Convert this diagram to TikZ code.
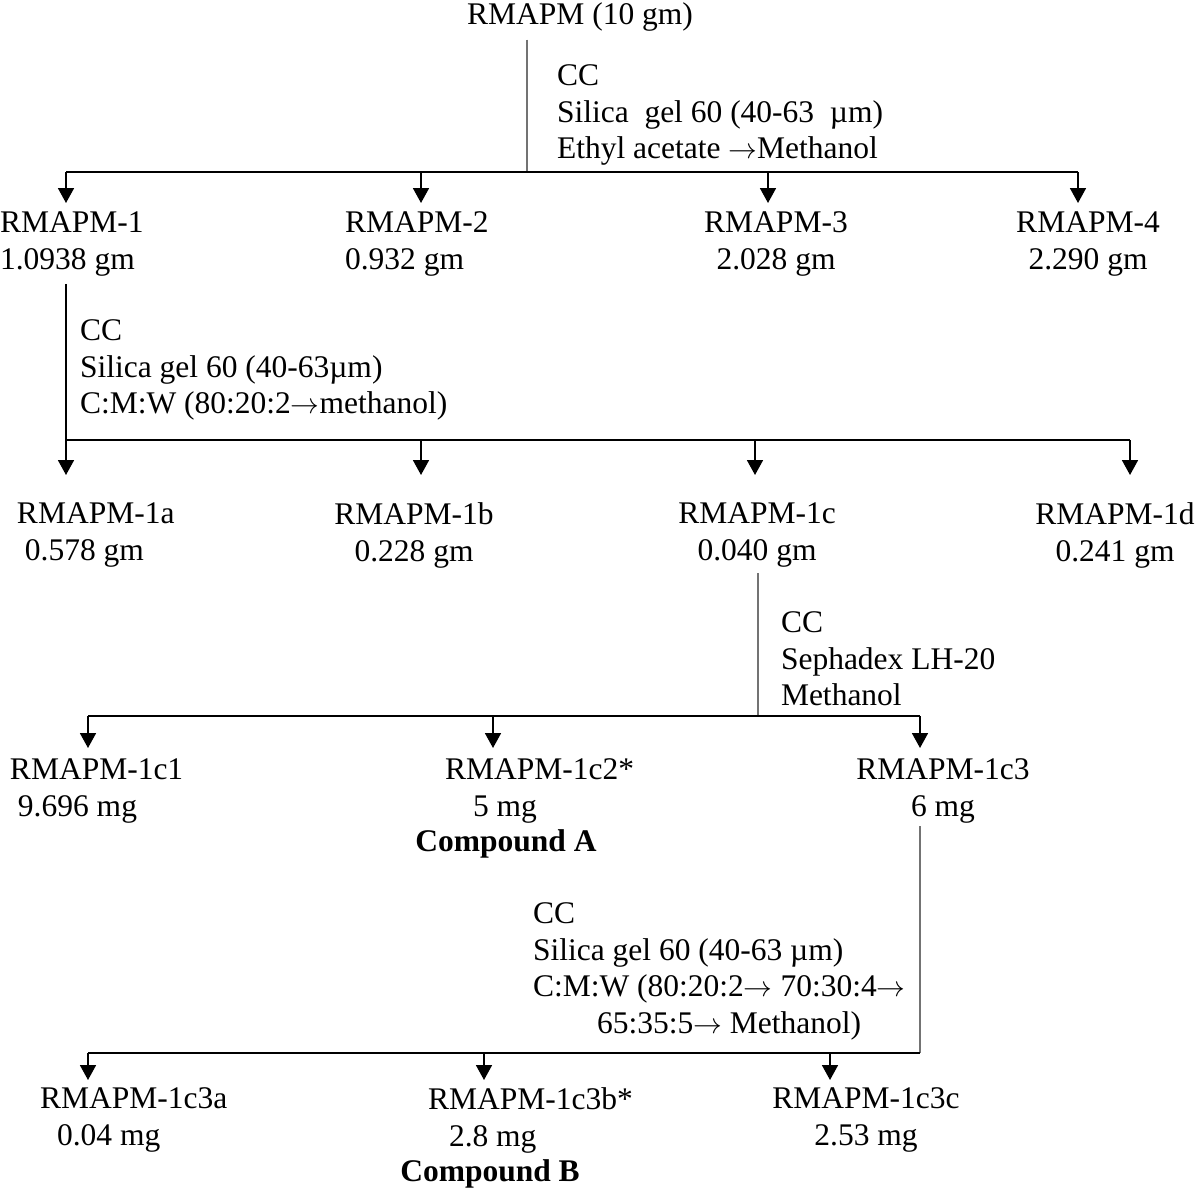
\documentclass[tikz,border=0pt]{standalone}
\usepackage{fontspec}
\setmainfont{Liberation Serif}
\usetikzlibrary{arrows.meta}
\newcommand\txtsize{\fontsize{15.75}{18.2}\selectfont}
\newcommand\ra{$\rightarrow$}
\tikzset{
  lbl/.style={inner sep=0pt, outer sep=0pt, font=\txtsize, align=left},
  lblc/.style={inner sep=0pt, outer sep=0pt, font=\txtsize, align=center},
  bold/.style={inner sep=0pt, outer sep=0pt, font=\txtsize\bfseries},
  trunkg/.style={draw=black!55, line width=1.3pt},
  trunkb/.style={draw=black, line width=0.9pt},
  bar/.style={draw=black, line width=1.1pt},
  arr/.style={draw=black, line width=0.9pt, -{Triangle[width=8pt,length=7.5pt]}},
}
\begin{document}
\begin{tikzpicture}[x=0.5pt,y=-0.5pt]
\useasboundingbox (0,0) rectangle (1200,1189);
% ---- level 0
\node[lbl, anchor=north] (root) at (580,3) {RMAPM (10 gm)};
\node[lbl, anchor=north west] (cc1) at (557,65) {CC\\Silica\ \ gel 60 (40-63\ \ µm)\\Ethyl acetate \ra Methanol};
% ---- level 1
\node[lbl, anchor=north west] (r1) at (0,212) {RMAPM-1\\1.0938 gm};
\node[lbl, anchor=north west] (r2) at (345,212) {RMAPM-2\\0.932 gm};
\node[lblc, anchor=north] (r3) at (776,212) {RMAPM-3\\2.028 gm};
\node[lblc, anchor=north] (r4) at (1088,212) {RMAPM-4\\2.290 gm};
\node[lbl, anchor=north west] (cc2) at (80,320) {CC\\Silica gel 60 (40-63µm)\\C:M:W (80:20:2\ra methanol)};
% ---- level 2
\node[lbl, anchor=north west] (r1a) at (17,503) {RMAPM-1a\\\hspace*{4pt}0.578 gm};
\node[lblc, anchor=north] (r1b) at (414,503) {RMAPM-1b\\0.228 gm};
\node[lblc, anchor=north] (r1c) at (757,503) {RMAPM-1c\\0.040 gm};
\node[lblc, anchor=north] (r1d) at (1115,503) {RMAPM-1d\\0.241 gm};
\node[lbl, anchor=north west] (cc3) at (781,612) {CC\\Sephadex LH-20\\Methanol};
% ---- level 3
\node[lbl, anchor=north west] (r1c1) at (10,759) {RMAPM-1c1\\\hspace*{4pt}9.696 mg};
\node[lbl, anchor=north west] (r1c2) at (445,759) {RMAPM-1c2*\\\hspace*{14pt}5 mg};
\node[bold, anchor=north] (cA) at (506,830) {Compound A};
\node[lblc, anchor=north] (r1c3) at (943,759) {RMAPM-1c3\\6 mg};
\node[lbl, anchor=north west] (cc4) at (533,903) {CC\\Silica gel 60 (40-63 µm)\\C:M:W (80:20:2\ra{} 70:30:4\ra\\\hspace*{32pt}65:35:5\ra{} Methanol)};
% ---- level 4
\node[lbl, anchor=north west] (r1c3a) at (40,1088) {RMAPM-1c3a\\\hspace*{8.5pt}0.04 mg};
\node[lbl, anchor=north west] (r1c3b) at (428,1088) {RMAPM-1c3b*\\\hspace*{10.5pt}2.8 mg};
\node[bold, anchor=north] (cB) at (490,1160) {Compound B};
\node[lblc, anchor=north] (r1c3c) at (866,1088) {RMAPM-1c3c\\2.53 mg};

% ---- connectors level 1
\coordinate (j1) at (527,172);
\coordinate (a11) at (66,172);
\coordinate (a12) at (421,172);
\coordinate (a13) at (768,172);
\coordinate (a14) at (1078,172);
\draw[trunkg, shorten <=4pt] (root.south -| j1) -- (j1);
\draw[bar] (a11) -- (a14);
\foreach \a/\n in {a11/r1,a12/r2,a13/r3,a14/r4}
  \draw[arr, shorten >=4.5pt] (\a) -- (\a |- \n.north);
% ---- level 2
\coordinate (a21) at (66,440);
\coordinate (a22) at (421,440);
\coordinate (a23) at (755,440);
\coordinate (a24) at (1130,440);
\draw[trunkb, shorten <=4pt] (r1.south -| a21) -- (a21);
\draw[bar] (a21) -- (a24);
\foreach \a/\n in {a21/r1a,a22/r1b,a23/r1c,a24/r1d}
  \draw[arr, shorten >=14pt] (\a) -- (\a |- \n.north);
% ---- level 3
\coordinate (j3) at (758,716);
\coordinate (a31) at (88,716);
\coordinate (a32) at (493,716);
\coordinate (a33) at (920,716);
\draw[trunkg, shorten <=3pt] (r1c.south -| j3) -- (j3);
\draw[bar] (a31) -- (a33);
\foreach \a/\n in {a31/r1c1,a32/r1c2,a33/r1c3}
  \draw[arr, shorten >=5.5pt] (\a) -- (\a |- \n.north);
% ---- level 4
\coordinate (j4) at (920,1053);
\coordinate (a41) at (88,1053);
\coordinate (a42) at (484,1053);
\coordinate (a43) at (830,1053);
\draw[trunkg, shorten <=1.5pt] (r1c3.south -| j4) -- (j4);
\draw[bar] (a41) -- (j4);
\foreach \a/\n in {a41/r1c3a,a42/r1c3b,a43/r1c3c}
  \draw[arr, shorten >=4pt] (\a) -- (\a |- \n.north);
\end{tikzpicture}
\end{document}
